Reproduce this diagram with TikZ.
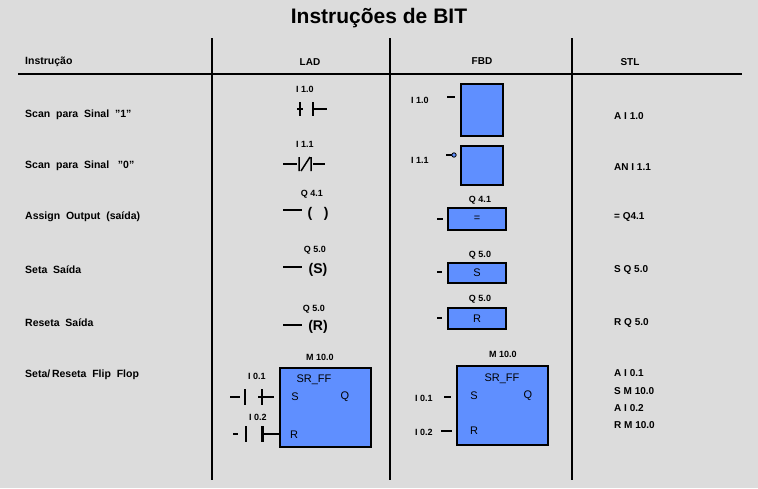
\documentclass[tikz,border=0pt]{standalone}
\usepackage{fontspec}
\setmainfont{Liberation Sans}
\definecolor{bg}{HTML}{DCDCDC}
\definecolor{bl}{HTML}{5F8FFF}
\begin{document}
\begin{tikzpicture}[x=1pt,y=-1pt,
  lab/.style={font=\bfseries\fontsize{10.5}{12}\selectfont,anchor=west,inner sep=0},
  sm/.style={font=\bfseries\fontsize{9}{10}\selectfont,inner sep=0},
  blk/.style={draw=black,line width=1.6pt,fill=bl},
  bt/.style={font=\fontsize{11}{12}\selectfont,inner sep=0},
  w/.style={line width=1.4pt},
  wb/.style={line width=2.4pt}]
\fill[bg] (0,0) rectangle (758,488);
\useasboundingbox (0,0) rectangle (758,488);
\node[font=\bfseries\fontsize{21}{24}\selectfont] (title) at (379,18) {Instruções de BIT};
\draw[line width=1.3pt] (212,38) -- (212,480) (390,38) -- (390,480) (572,38) -- (572,480);
\draw[line width=1.3pt] (18,74) -- (742,74);
\node[lab] (h1) at (25,62) {Instrução};
\node[sm,font=\bfseries\fontsize{10}{11}\selectfont] (h2) at (310,62) {LAD};
\node[sm,font=\bfseries\fontsize{10}{11}\selectfont] (h3) at (482,61) {FBD};
\node[sm,font=\bfseries\fontsize{10}{11}\selectfont] (h4) at (630,62) {STL};
% labels
\node[lab] (r1) at (25,115) {Scan\ \ para\ \ Sinal\ \ "1"};
\node[lab] (r2) at (25,166) {Scan\ \ para\ \ Sinal\ \ \ "0"};
\node[lab] (r3) at (25,217) {Assign\ \ Output\ \ (saída)};
\node[lab] (r4) at (25,270) {Seta\ \ Saída};
\node[lab] (r5) at (25,323) {Reseta\ \ Saída};
\node[lab] (r6) at (25,375) {Seta/\,Reseta\ \ Flip\ \ Flop};
% LAD
\node[sm] (l1) at (305,89) {I 1.0};
\draw[w] (297,109) -- (303,109); \draw[w] (299,109)--(302,109);
\draw[line width=1.5pt] (300,102) -- (300,116) (313,102) -- (313,116);
\draw[wb] (313,109) -- (327,109);
\node[sm] (l2) at (305,144) {I 1.1};
\draw[w] (283,164) -- (295,164) (317,164) -- (325,164);
\draw[line width=1.5pt] (299,157) -- (299,171) (311,157) -- (311,171) (301,171) -- (310,157);
\draw[w] (295,164)--(297,164) (313,164)--(317,164);
\node[sm] (l3) at (312,194) {Q 4.1};
\draw[wb] (283,210) -- (302,210);
\node[font=\bfseries\fontsize{14}{16}\selectfont,inner sep=0] (c3) at (318,214) {(\ \ \ )};
\node[sm] (l4) at (315,250) {Q 5.0};
\draw[wb] (283,267) -- (302,267);
\node[font=\bfseries\fontsize{14}{16}\selectfont,inner sep=0] (c4) at (318,270) {(S)};
\node[sm] (l5) at (314,309) {Q 5.0};
\draw[wb] (283,325) -- (302,325);
\node[font=\bfseries\fontsize{14}{16}\selectfont,inner sep=0] (c5) at (318,327) {(R)};
% LAD SR
\node[sm] (m1) at (320,357) {M 10.0};
\draw[blk] (280,368) rectangle (371,447);
\node[bt] (sr1) at (314,380) {SR\_FF};
\node[bt] (s1) at (295,397) {S};
\node[bt] (q1) at (345,397) {Q};
\node[bt] (rr1) at (294,435) {R};
\node[sm] (i01) at (257,376) {I 0.1};
\draw[w] (230,397) -- (240,397) (258,397) -- (274,397);
\draw[line width=1.8pt] (245,389)--(245,405) (262,389)--(262,405);
\node[sm] (i02) at (258,417) {I 0.2};
\draw[w] (233,434) -- (238,434);
\draw[line width=1.8pt] (246,426)--(246,442);
\draw[line width=3pt] (262,426)--(262,442);
\draw[wb] (262,434) -- (279,434);
% FBD
\node[sm] (f1) at (420,100) {I 1.0};
\draw[w] (447,97) -- (455,97);
\draw[blk] (461,84) rectangle (503,136);
\node[sm] (f2) at (420,160) {I 1.1};
\draw[wb] (446,155) -- (452,155);
\draw[line width=0.8pt,fill=bl] (454,155) circle (2.2);
\draw[blk] (461,146) rectangle (503,185);
\node[sm] (f3) at (480,200) {Q 4.1};
\draw[blk] (448,208) rectangle (506,230);
\node[bt] at (477,219) {=};
\draw[w] (437,219) -- (443,219);
\node[sm] (f4) at (480,255) {Q 5.0};
\draw[blk] (448,263) rectangle (506,283);
\node[bt] at (477,273) {S};
\draw[w] (437,272) -- (442,272);
\node[sm] (f5) at (480,299) {Q 5.0};
\draw[blk] (448,308) rectangle (506,329);
\node[bt] at (477,319) {R};
\draw[w] (437,318) -- (442,318);
\node[sm] (m2) at (503,354) {M 10.0};
\draw[blk] (457,366) rectangle (548,445);
\node[bt] (sr2) at (502,379) {SR\_FF};
\node[bt] (s2) at (474,396) {S};
\node[bt] (q2) at (528,396) {Q};
\node[bt] (rr2) at (474,431) {R};
\node[sm] (g1) at (424,398) {I 0.1};
\node[sm] (g2) at (424,432) {I 0.2};
\draw[wb] (444,397) -- (451,397);
\draw[w] (441,431) -- (452,431);
% STL
\node[sm,anchor=west,font=\bfseries\fontsize{10}{11}\selectfont] (t1) at (614,116) {A I 1.0};
\node[sm,anchor=west,font=\bfseries\fontsize{10}{11}\selectfont] (t2) at (614,167) {AN I 1.1};
\node[sm,anchor=west,font=\bfseries\fontsize{10}{11}\selectfont] (t3) at (614,217) {= Q4.1};
\node[sm,anchor=west,font=\bfseries\fontsize{10}{11}\selectfont] (t4) at (614,270) {S Q 5.0};
\node[sm,anchor=west,font=\bfseries\fontsize{10}{11}\selectfont] (t5) at (614,323) {R Q 5.0};
\node[sm,anchor=west,font=\bfseries\fontsize{10}{11}\selectfont] (t6) at (614,373) {A I 0.1};
\node[sm,anchor=west,font=\bfseries\fontsize{10}{11}\selectfont] (t7) at (614,391) {S M 10.0};
\node[sm,anchor=west,font=\bfseries\fontsize{10}{11}\selectfont] (t8) at (614,408) {A I 0.2};
\node[sm,anchor=west,font=\bfseries\fontsize{10}{11}\selectfont] (t9) at (614,425) {R M 10.0};
\end{tikzpicture}
\end{document}
